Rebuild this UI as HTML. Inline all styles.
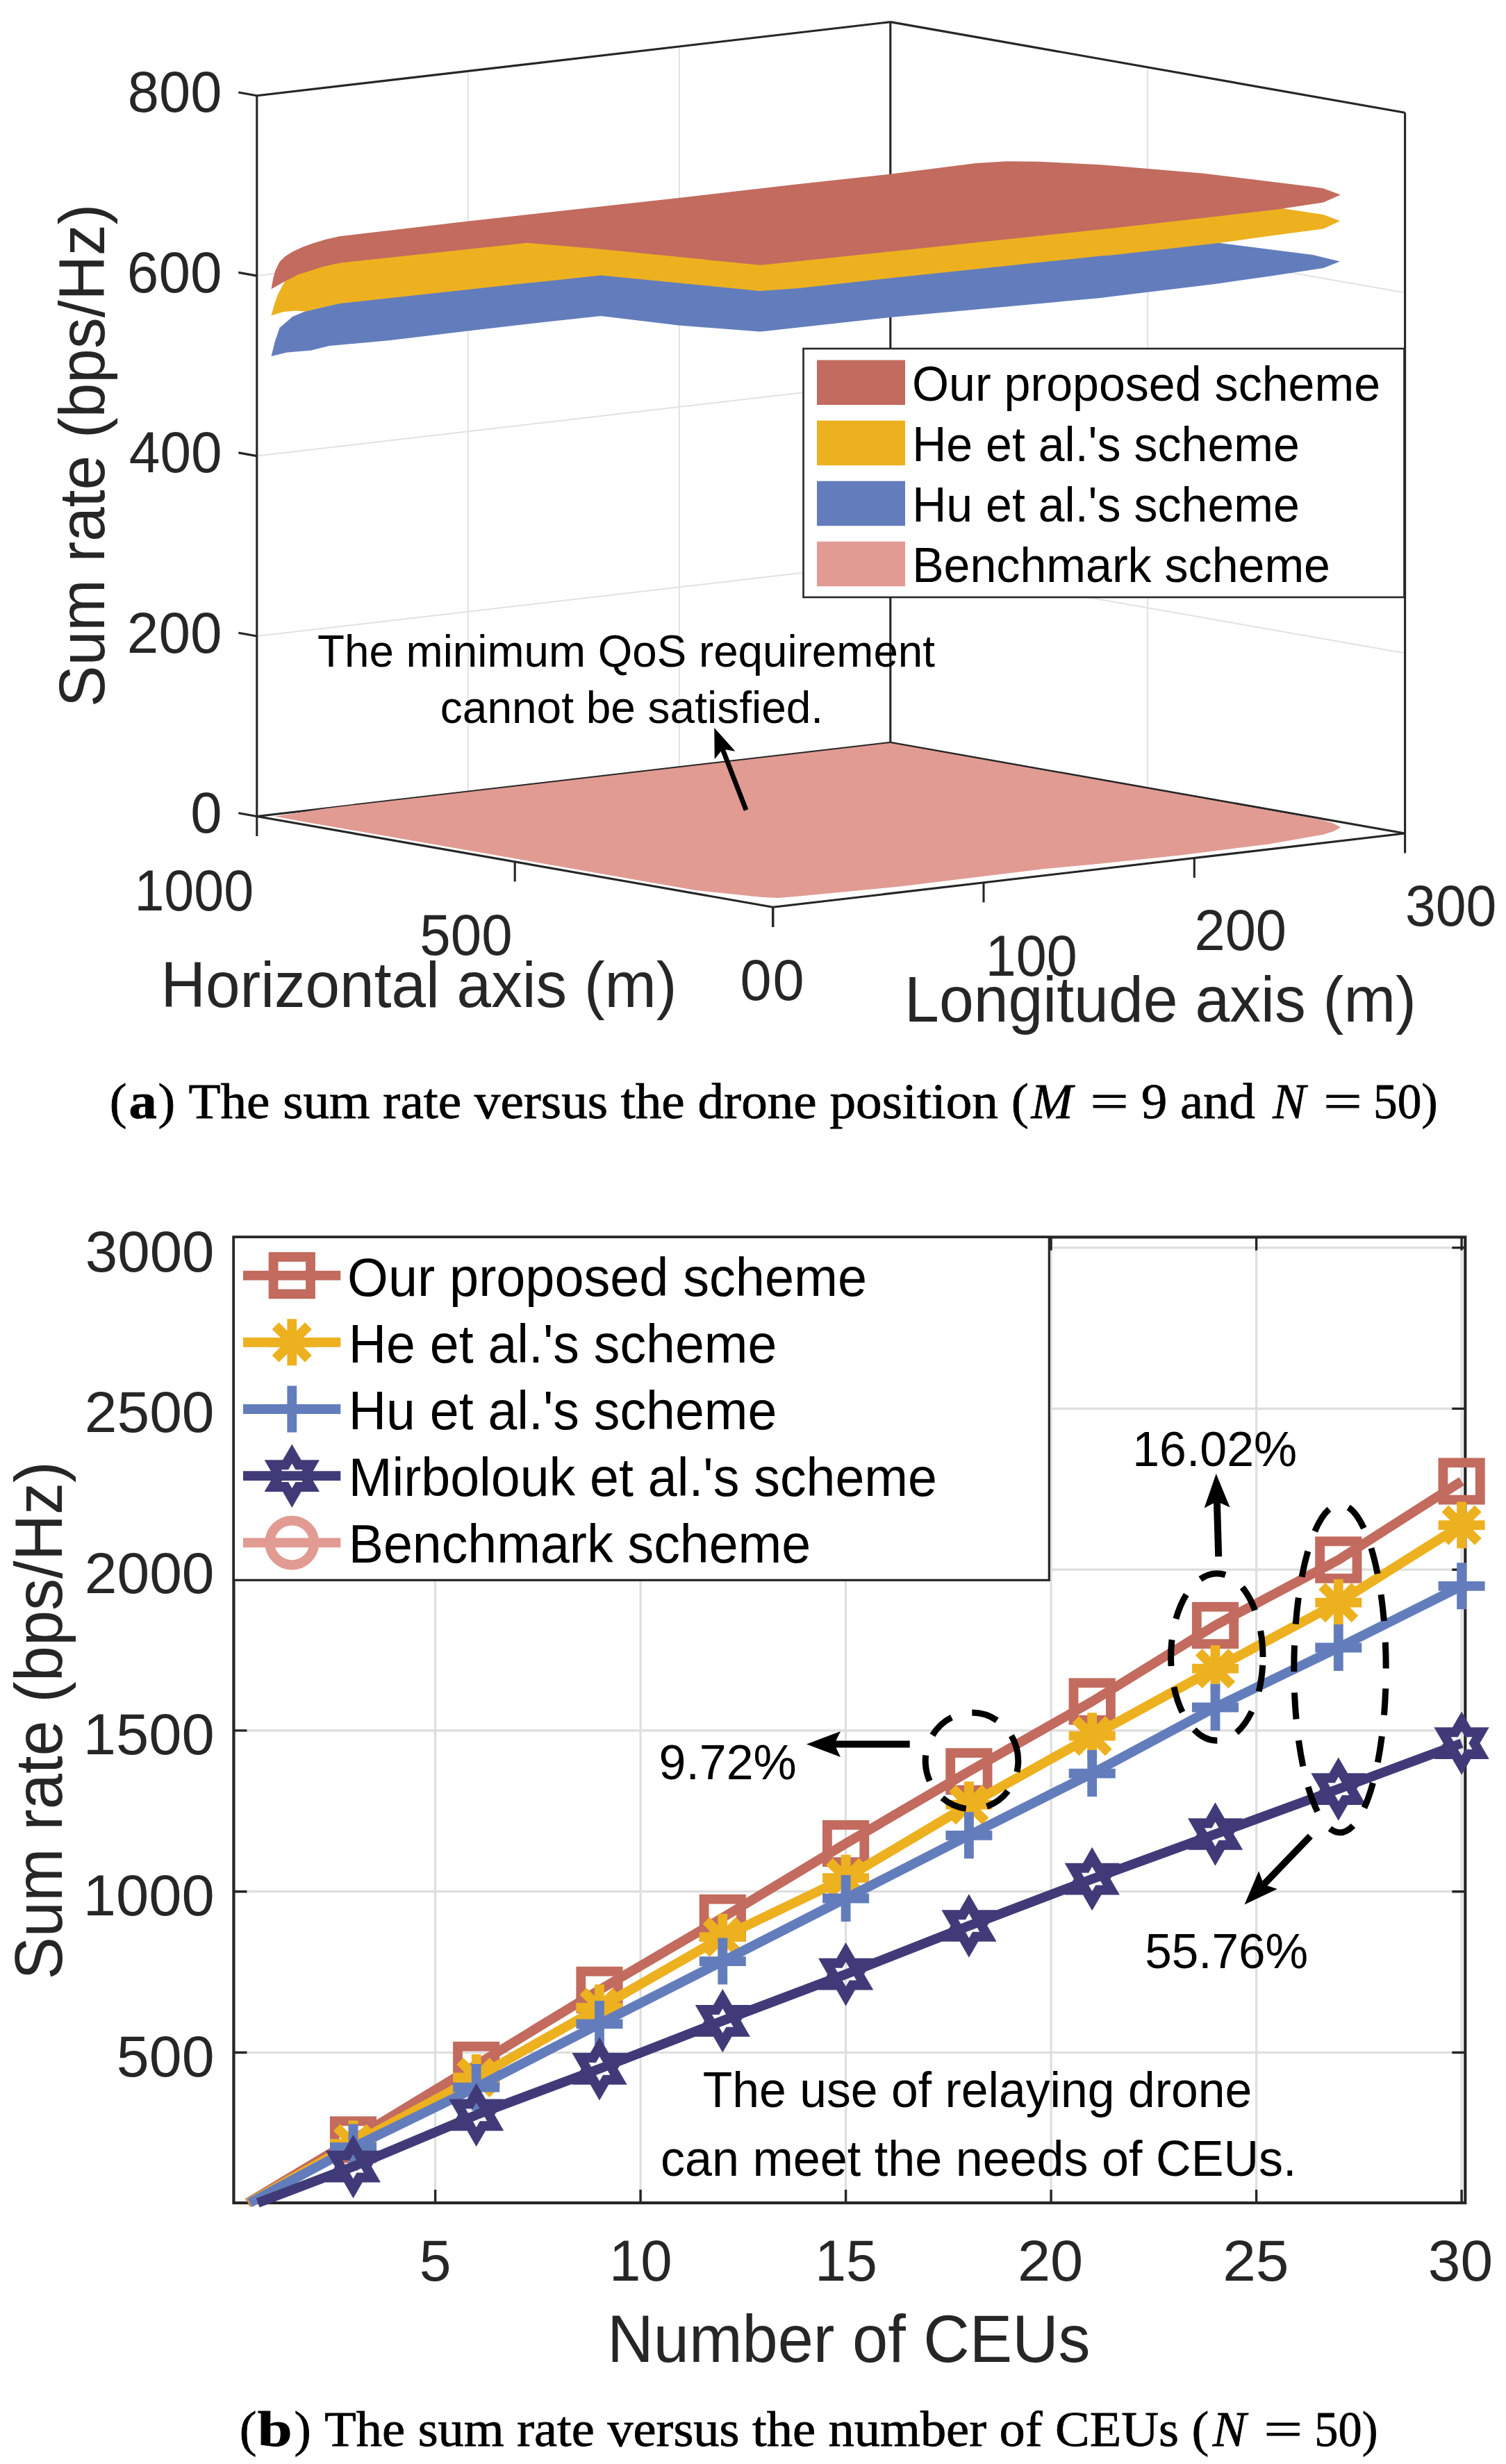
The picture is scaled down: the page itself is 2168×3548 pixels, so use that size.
<!DOCTYPE html>
<html lang="en"><head><meta charset="utf-8"><title>Sum rate figures</title>
<style>html,body{margin:0;padding:0;background:#fff}svg{display:block}</style></head>
<body><svg width="2168" height="3548" viewBox="0 0 2168 3548">
<rect width="2168" height="3548" fill="#fff"/>
<g id="chart-a">
<line x1="369.8" y1="916.0" x2="1281.8" y2="810.0" stroke="#e2e2e2" stroke-width="2" />
<line x1="1281.8" y1="810.0" x2="2022.6" y2="940.5" stroke="#e2e2e2" stroke-width="2" />
<line x1="369.8" y1="656.6" x2="1281.8" y2="550.5" stroke="#e2e2e2" stroke-width="2" />
<line x1="1281.8" y1="550.5" x2="2022.6" y2="681.1" stroke="#e2e2e2" stroke-width="2" />
<line x1="369.8" y1="397.1" x2="1281.8" y2="291.1" stroke="#e2e2e2" stroke-width="2" />
<line x1="1281.8" y1="291.1" x2="2022.6" y2="421.6" stroke="#e2e2e2" stroke-width="2" />
<line x1="673.8" y1="1140.1" x2="673.8" y2="102.3" stroke="#e2e2e2" stroke-width="2" />
<line x1="977.8" y1="1104.8" x2="977.8" y2="67.0" stroke="#e2e2e2" stroke-width="2" />
<line x1="1652.2" y1="1134.7" x2="1652.2" y2="96.9" stroke="#e2e2e2" stroke-width="2" />
<line x1="369.8" y1="1175.5" x2="1281.8" y2="1069.4" stroke="#262626" stroke-width="3.1" />
<line x1="1281.8" y1="1069.4" x2="2022.6" y2="1200.0" stroke="#262626" stroke-width="3.1" />
<line x1="1281.8" y1="1069.4" x2="1281.8" y2="31.6" stroke="#262626" stroke-width="3.1" />
<polygon fill="#E19B92" points="395,1175.5 470,1164 1281.5,1070 1898,1179.5 1918,1185 1930,1191 1920,1197 1906,1201.6 1826.7,1215.5 1699,1231.5 1580,1244 1500,1251.4 1300,1276 1150,1290.5 1120,1293 1095.6,1291.8 1000,1281.8 700,1229 450,1185.5"/>
<line x1="369.8" y1="1175.5" x2="1112.7" y2="1306.3" stroke="#262626" stroke-width="3.1" />
<line x1="1112.7" y1="1306.3" x2="2022.6" y2="1200.0" stroke="#262626" stroke-width="3.1" />
<path fill="#637DBC" d="M390.5,513 L396,491 L402.5,472 L421,456 L440,448 L466,442 L490,436 L760,405 L865,394 L1094,416 L1150,412 L1281,398 L1585,366 L1749,349 L1890,367 L1929,376.6 L1905,386 L1826,398 L1749,409 L1600,427 L1585,429 L1281,457 L1100,477 L1094,477.5 L977,468.5 L865,455 L791,463 L674,476.5 L562,490 L474,498 L448,504.5 L413,507.5 Z"/>
<path fill="#EDB120" d="M390.5,454.6 L395,438 L400,424 L410,405 L430,392 L466,380 L490,375 L760,345 L1094,378 L1600,325 L1839,299 L1905,309 L1929.3,318.2 L1905,329.5 L1826,340 L1754,350 L1600,367.5 L1585,368.5 L1281,400.5 L1150,415 L1094,419 L865,396.5 L760,407.6 L490,437 L466,442 L440,448.5 L426,447.5 L408,449 Z"/>
<path fill="#C26B5E" d="M390.5,416.3 L393,402 L396,390.3 L402.5,377 L410,369.5 L421,362.4 L435,356 L450,350.5 L468,345 L487.5,340.4 L674,318.6 L977,285 L1150,265 L1281,250.8 L1405,235 L1450,232.2 L1495,232.7 L1585,237.2 L1600,238.5 L1733,249.7 L1890,269 L1905,271.2 L1929.9,280.5 L1905,291.6 L1839,301.5 L1766,310 L1600,328.8 L1450,344.6 L1281,362.3 L1100,381.2 L1094,381.7 L860,358.3 L759,349.8 L490,378.4 L466,383.7 L429,395.6 L408,406.2 Z"/>
<line x1="369.8" y1="1175.5" x2="369.8" y2="137.7" stroke="#262626" stroke-width="3.1" />
<line x1="369.8" y1="137.7" x2="1281.8" y2="31.6" stroke="#262626" stroke-width="3.1" />
<line x1="1281.8" y1="31.6" x2="2022.6" y2="162.2" stroke="#262626" stroke-width="3.1" />
<line x1="2022.6" y1="1200.0" x2="2022.6" y2="162.2" stroke="#262626" stroke-width="3.1" />
<line x1="343.3" y1="1170.8" x2="369.8" y2="1175.5" stroke="#262626" stroke-width="3.1" />
<text transform="translate(274.15,1199.1) scale(0.9825,1)" font-size="83" fill="#262626" font-family="Liberation Sans, Arial, Helvetica, sans-serif">0</text>
<line x1="343.3" y1="911.3" x2="369.8" y2="916.0" stroke="#262626" stroke-width="3.1" />
<text transform="translate(182.85,939.6) scale(0.9869,1)" font-size="83" fill="#262626" font-family="Liberation Sans, Arial, Helvetica, sans-serif">200</text>
<line x1="343.3" y1="651.9" x2="369.8" y2="656.6" stroke="#262626" stroke-width="3.1" />
<text transform="translate(185.84,680.2) scale(0.9649,1)" font-size="83" fill="#262626" font-family="Liberation Sans, Arial, Helvetica, sans-serif">400</text>
<line x1="343.3" y1="392.4" x2="369.8" y2="397.1" stroke="#262626" stroke-width="3.1" />
<text transform="translate(182.85,420.8) scale(0.9869,1)" font-size="83" fill="#262626" font-family="Liberation Sans, Arial, Helvetica, sans-serif">600</text>
<line x1="343.3" y1="133.0" x2="369.8" y2="137.7" stroke="#262626" stroke-width="3.1" />
<text transform="translate(183.86,161.3) scale(0.9794,1)" font-size="83" fill="#262626" font-family="Liberation Sans, Arial, Helvetica, sans-serif">800</text>
<line x1="369.8" y1="1175.5" x2="369.8" y2="1204.0" stroke="#262626" stroke-width="3.1" />
<text transform="translate(193.42,1310.5) scale(0.9300,1)" font-size="83" fill="#262626" font-family="Liberation Sans, Arial, Helvetica, sans-serif">1000</text>
<line x1="741.2" y1="1240.9" x2="741.2" y2="1269.4" stroke="#262626" stroke-width="3.1" />
<text transform="translate(604.31,1374.9) scale(0.9621,1)" font-size="83" fill="#262626" font-family="Liberation Sans, Arial, Helvetica, sans-serif">500</text>
<line x1="1112.7" y1="1306.3" x2="1112.7" y2="1334.8" stroke="#262626" stroke-width="3.1" />
<text transform="translate(1065.57,1440.3) scale(0.9775,1)" font-size="83" fill="#262626" font-family="Liberation Sans, Arial, Helvetica, sans-serif">0</text>
<line x1="1112.7" y1="1306.3" x2="1112.7" y2="1334.8" stroke="#262626" stroke-width="3.1" />
<text transform="translate(1112.57,1440.3) scale(0.9775,1)" font-size="83" fill="#262626" font-family="Liberation Sans, Arial, Helvetica, sans-serif">0</text>
<line x1="1416.0" y1="1270.9" x2="1416.0" y2="1299.4" stroke="#262626" stroke-width="3.1" />
<text transform="translate(1418.78,1404.5) scale(0.9527,1)" font-size="83" fill="#262626" font-family="Liberation Sans, Arial, Helvetica, sans-serif">100</text>
<line x1="1719.3" y1="1235.4" x2="1719.3" y2="1263.9" stroke="#262626" stroke-width="3.1" />
<text transform="translate(1719.57,1368.4) scale(0.9564,1)" font-size="83" fill="#262626" font-family="Liberation Sans, Arial, Helvetica, sans-serif">200</text>
<line x1="2022.6" y1="1200.0" x2="2022.6" y2="1228.5" stroke="#262626" stroke-width="3.1" />
<text transform="translate(2022.95,1332.5) scale(0.9484,1)" font-size="83" fill="#262626" font-family="Liberation Sans, Arial, Helvetica, sans-serif">300</text>
<text transform="translate(231.52,1450.3) scale(0.9691,1)" font-size="92" fill="#262626" font-family="Liberation Sans, Arial, Helvetica, sans-serif">Horizontal axis (m)</text>
<text transform="translate(1302.08,1471) scale(0.9737,1)" font-size="92" fill="#262626" font-family="Liberation Sans, Arial, Helvetica, sans-serif">Longitude axis (m)</text>
<text transform="translate(149.7,1017.88) rotate(-90) scale(0.9703,1)" font-size="92" fill="#262626" font-family="Liberation Sans, Arial, Helvetica, sans-serif">Sum rate (bps/Hz)</text>
<rect x="1156.5" y="502" width="865" height="358" fill="#fff" stroke="#262626" stroke-width="2.6"/>
<rect x="1176" y="518.5" width="127" height="64.5" fill="#C26B5E"/>
<text transform="translate(1313.06,576.5) scale(0.9804,1)" font-size="69.5" fill="#000" font-family="Liberation Sans, Arial, Helvetica, sans-serif">Our proposed scheme</text>
<rect x="1176" y="605.6" width="127" height="64.5" fill="#EDB120"/>
<text transform="translate(1313.20,664) scale(0.9794,1)" font-size="69.5" fill="#000" font-family="Liberation Sans, Arial, Helvetica, sans-serif">He et al.'s scheme</text>
<rect x="1176" y="692.7" width="127" height="64.5" fill="#637DBC"/>
<text transform="translate(1313.20,750.5) scale(0.9794,1)" font-size="69.5" fill="#000" font-family="Liberation Sans, Arial, Helvetica, sans-serif">Hu et al.'s scheme</text>
<rect x="1176" y="779.8" width="127" height="64.5" fill="#E19B92"/>
<text transform="translate(1313.20,837.5) scale(0.9800,1)" font-size="69.5" fill="#000" font-family="Liberation Sans, Arial, Helvetica, sans-serif">Benchmark scheme</text>
<text transform="translate(457.02,959.5) scale(0.9807,1)" font-size="65" fill="#000" font-family="Liberation Sans, Arial, Helvetica, sans-serif">The minimum QoS requirement</text>
<text transform="translate(633.83,1040.7) scale(0.9844,1)" font-size="65" fill="#000" font-family="Liberation Sans, Arial, Helvetica, sans-serif">cannot be satisfied.</text>
<line x1="1074.1" y1="1166.4" x2="1040.2" y2="1078.7" stroke="#000" stroke-width="7"/>
<polygon fill="#000" points="1028.3,1047.9 1058.5,1081.8 1040.2,1078.7 1028.7,1093.3"/>
</g>
<text transform="translate(157.86,1609.7) scale(1.0474,1)" font-size="71" fill="#000" font-family="Liberation Serif, Times New Roman, serif" stroke="#000" stroke-width="0.8">(</text>
<text transform="translate(185.53,1609.7) scale(1.1364,1)" font-size="71" fill="#000" font-family="Liberation Serif, Times New Roman, serif" font-weight="bold" stroke="#000" stroke-width="0.8">a</text>
<text transform="translate(227.61,1609.7) scale(1.0474,1)" font-size="71" fill="#000" font-family="Liberation Serif, Times New Roman, serif" stroke="#000" stroke-width="0.8">)</text>
<text transform="translate(271.44,1609.7) scale(1.0595,1)" font-size="71" fill="#000" font-family="Liberation Serif, Times New Roman, serif" stroke="#000" stroke-width="0.8">The sum rate versus the drone position (</text>
<text transform="translate(1484.61,1609.7) scale(1.0125,1)" font-size="71" fill="#000" font-family="Liberation Serif, Times New Roman, serif" font-style="italic" stroke="#000" stroke-width="0.8">M</text>
<text transform="translate(1569.24,1609.7) scale(1.3882,1)" font-size="71" fill="#000" font-family="Liberation Serif, Times New Roman, serif" stroke="#000" stroke-width="0.8">=</text>
<text transform="translate(1642.90,1609.7) scale(1.0524,1)" font-size="71" fill="#000" font-family="Liberation Serif, Times New Roman, serif" stroke="#000" stroke-width="0.8">9 and</text>
<text transform="translate(1832.20,1609.7) scale(1.0000,1)" font-size="71" fill="#000" font-family="Liberation Serif, Times New Roman, serif" font-style="italic" stroke="#000" stroke-width="0.8">N</text>
<text transform="translate(1905.02,1609.7) scale(1.3941,1)" font-size="71" fill="#000" font-family="Liberation Serif, Times New Roman, serif" stroke="#000" stroke-width="0.8">=</text>
<text transform="translate(1977.09,1609.7) scale(0.9773,1)" font-size="71" fill="#000" font-family="Liberation Serif, Times New Roman, serif" stroke="#000" stroke-width="0.8">50)</text>
<g id="chart-b">
<line x1="626.6" y1="1781.4" x2="626.6" y2="3172" stroke="#dedede" stroke-width="3.2"/>
<line x1="922.1" y1="1781.4" x2="922.1" y2="3172" stroke="#dedede" stroke-width="3.2"/>
<line x1="1217.6" y1="1781.4" x2="1217.6" y2="3172" stroke="#dedede" stroke-width="3.2"/>
<line x1="1513.1" y1="1781.4" x2="1513.1" y2="3172" stroke="#dedede" stroke-width="3.2"/>
<line x1="1808.6" y1="1781.4" x2="1808.6" y2="3172" stroke="#dedede" stroke-width="3.2"/>
<line x1="2104.1" y1="1781.4" x2="2104.1" y2="3172" stroke="#dedede" stroke-width="3.2"/>
<line x1="336.45" y1="2955.5" x2="2109.3" y2="2955.5" stroke="#dedede" stroke-width="3.2"/>
<line x1="336.45" y1="2723.7" x2="2109.3" y2="2723.7" stroke="#dedede" stroke-width="3.2"/>
<line x1="336.45" y1="2491.9" x2="2109.3" y2="2491.9" stroke="#dedede" stroke-width="3.2"/>
<line x1="336.45" y1="2260.2" x2="2109.3" y2="2260.2" stroke="#dedede" stroke-width="3.2"/>
<line x1="336.45" y1="2028.4" x2="2109.3" y2="2028.4" stroke="#dedede" stroke-width="3.2"/>
<line x1="336.45" y1="1796.6" x2="2109.3" y2="1796.6" stroke="#dedede" stroke-width="3.2"/>
<rect x="336.45" y="1781.4" width="1772.8500000000001" height="1390.6" fill="none" stroke="#262626" stroke-width="4.2"/>
<path d="M626.6,3172v-19M626.6,1781.4v19" stroke="#262626" stroke-width="3.4"/>
<text transform="translate(603.83,3283.9) scale(0.9900,1)" font-size="83" fill="#262626" font-family="Liberation Sans, Arial, Helvetica, sans-serif">5</text>
<path d="M922.1,3172v-19M922.1,1781.4v19" stroke="#262626" stroke-width="3.4"/>
<text transform="translate(876.90,3283.9) scale(0.9836,1)" font-size="83" fill="#262626" font-family="Liberation Sans, Arial, Helvetica, sans-serif">10</text>
<path d="M1217.6,3172v-19M1217.6,1781.4v19" stroke="#262626" stroke-width="3.4"/>
<text transform="translate(1173.18,3283.9) scale(0.9704,1)" font-size="83" fill="#262626" font-family="Liberation Sans, Arial, Helvetica, sans-serif">15</text>
<path d="M1513.1,3172v-19M1513.1,1781.4v19" stroke="#262626" stroke-width="3.4"/>
<text transform="translate(1464.91,3283.9) scale(1.0216,1)" font-size="83" fill="#262626" font-family="Liberation Sans, Arial, Helvetica, sans-serif">20</text>
<path d="M1808.6,3172v-19M1808.6,1781.4v19" stroke="#262626" stroke-width="3.4"/>
<text transform="translate(1760.17,3283.9) scale(1.0333,1)" font-size="83" fill="#262626" font-family="Liberation Sans, Arial, Helvetica, sans-serif">25</text>
<path d="M2104.1,3172v-19M2104.1,1781.4v19" stroke="#262626" stroke-width="3.4"/>
<text transform="translate(2055.87,3283.9) scale(1.0097,1)" font-size="83" fill="#262626" font-family="Liberation Sans, Arial, Helvetica, sans-serif">30</text>
<path d="M336.45,2955.5h19M2109.3,2955.5h-19" stroke="#262626" stroke-width="3.4"/>
<text transform="translate(167.85,2989.5) scale(1.0165,1)" font-size="83" fill="#262626" font-family="Liberation Sans, Arial, Helvetica, sans-serif">500</text>
<path d="M336.45,2723.7h19M2109.3,2723.7h-19" stroke="#262626" stroke-width="3.4"/>
<text transform="translate(119.66,2757.7) scale(1.0235,1)" font-size="83" fill="#262626" font-family="Liberation Sans, Arial, Helvetica, sans-serif">1000</text>
<path d="M336.45,2491.9h19M2109.3,2491.9h-19" stroke="#262626" stroke-width="3.4"/>
<text transform="translate(119.66,2525.9) scale(1.0235,1)" font-size="83" fill="#262626" font-family="Liberation Sans, Arial, Helvetica, sans-serif">1500</text>
<path d="M336.45,2260.2h19M2109.3,2260.2h-19" stroke="#262626" stroke-width="3.4"/>
<text transform="translate(121.75,2294.2) scale(1.0119,1)" font-size="83" fill="#262626" font-family="Liberation Sans, Arial, Helvetica, sans-serif">2000</text>
<path d="M336.45,2028.4h19M2109.3,2028.4h-19" stroke="#262626" stroke-width="3.4"/>
<text transform="translate(121.75,2062.4) scale(1.0119,1)" font-size="83" fill="#262626" font-family="Liberation Sans, Arial, Helvetica, sans-serif">2500</text>
<path d="M336.45,1796.6h19M2109.3,1796.6h-19" stroke="#262626" stroke-width="3.4"/>
<text transform="translate(122.78,1830.6) scale(1.0063,1)" font-size="83" fill="#262626" font-family="Liberation Sans, Arial, Helvetica, sans-serif">3000</text>
<polyline fill="none" stroke="#C26B5E" stroke-width="13.8" stroke-linejoin="round" points="356.6,3172.0 508.5,3081.0 685.7,2973.4 863.0,2865.4 1040.3,2761.4 1217.6,2654.5 1394.9,2550.8 1572.2,2450.0 1749.5,2340.4 1926.8,2246.1 2104.1,2132.9"/>
<rect x="481.8" y="3054.3" width="53.4" height="53.4" fill="none" stroke="#C26B5E" stroke-width="13.8"/>
<rect x="659.0" y="2946.7" width="53.4" height="53.4" fill="none" stroke="#C26B5E" stroke-width="13.8"/>
<rect x="836.3" y="2838.7" width="53.4" height="53.4" fill="none" stroke="#C26B5E" stroke-width="13.8"/>
<rect x="1013.6" y="2734.7" width="53.4" height="53.4" fill="none" stroke="#C26B5E" stroke-width="13.8"/>
<rect x="1190.9" y="2627.8" width="53.4" height="53.4" fill="none" stroke="#C26B5E" stroke-width="13.8"/>
<rect x="1368.2" y="2524.1" width="53.4" height="53.4" fill="none" stroke="#C26B5E" stroke-width="13.8"/>
<rect x="1545.5" y="2423.3" width="53.4" height="53.4" fill="none" stroke="#C26B5E" stroke-width="13.8"/>
<rect x="1722.8" y="2313.7" width="53.4" height="53.4" fill="none" stroke="#C26B5E" stroke-width="13.8"/>
<rect x="1900.1" y="2219.4" width="53.4" height="53.4" fill="none" stroke="#C26B5E" stroke-width="13.8"/>
<rect x="2077.4" y="2106.2" width="53.4" height="53.4" fill="none" stroke="#C26B5E" stroke-width="13.8"/>
<polyline fill="none" stroke="#EDB120" stroke-width="13.8" stroke-linejoin="round" points="358.2,3172.0 508.5,3087.0 685.7,2991.5 863.0,2891.0 1040.3,2789.2 1217.6,2704.2 1394.9,2598.7 1572.2,2499.7 1749.5,2402.6 1926.8,2307.6 2104.1,2196.1"/>
<path d="M475.0,3087.0h67.0M508.5,3053.5v67.0M484.8,3063.3l47.4,47.4M484.8,3110.7l47.4,-47.4" stroke="#EDB120" stroke-width="13.8" fill="none"/>
<path d="M652.2,2991.5h67.0M685.7,2958.0v67.0M662.1,2967.8l47.4,47.4M662.1,3015.2l47.4,-47.4" stroke="#EDB120" stroke-width="13.8" fill="none"/>
<path d="M829.5,2891.0h67.0M863.0,2857.5v67.0M839.4,2867.3l47.4,47.4M839.4,2914.7l47.4,-47.4" stroke="#EDB120" stroke-width="13.8" fill="none"/>
<path d="M1006.8,2789.2h67.0M1040.3,2755.7v67.0M1016.6,2765.5l47.4,47.4M1016.6,2812.9l47.4,-47.4" stroke="#EDB120" stroke-width="13.8" fill="none"/>
<path d="M1184.1,2704.2h67.0M1217.6,2670.7v67.0M1193.9,2680.5l47.4,47.4M1193.9,2727.9l47.4,-47.4" stroke="#EDB120" stroke-width="13.8" fill="none"/>
<path d="M1361.4,2598.7h67.0M1394.9,2565.2v67.0M1371.2,2575.0l47.4,47.4M1371.2,2622.4l47.4,-47.4" stroke="#EDB120" stroke-width="13.8" fill="none"/>
<path d="M1538.7,2499.7h67.0M1572.2,2466.2v67.0M1548.5,2476.0l47.4,47.4M1548.5,2523.4l47.4,-47.4" stroke="#EDB120" stroke-width="13.8" fill="none"/>
<path d="M1716.0,2402.6h67.0M1749.5,2369.1v67.0M1725.8,2378.9l47.4,47.4M1725.8,2426.3l47.4,-47.4" stroke="#EDB120" stroke-width="13.8" fill="none"/>
<path d="M1893.3,2307.6h67.0M1926.8,2274.1v67.0M1903.1,2283.9l47.4,47.4M1903.1,2331.3l47.4,-47.4" stroke="#EDB120" stroke-width="13.8" fill="none"/>
<path d="M2070.6,2196.1h67.0M2104.1,2162.6v67.0M2080.4,2172.4l47.4,47.4M2080.4,2219.8l47.4,-47.4" stroke="#EDB120" stroke-width="13.8" fill="none"/>
<polyline fill="none" stroke="#637DBC" stroke-width="13.8" stroke-linejoin="round" points="359.6,3172.0 508.5,3092.0 685.7,3005.6 863.0,2914.4 1040.3,2824.1 1217.6,2733.5 1394.9,2642.8 1572.2,2553.6 1749.5,2458.5 1926.8,2372.5 2104.1,2283.8"/>
<path d="M475.0,3092.0h67.0M508.5,3058.5v67.0" stroke="#637DBC" stroke-width="13.8" fill="none"/>
<path d="M652.2,3005.6h67.0M685.7,2972.1v67.0" stroke="#637DBC" stroke-width="13.8" fill="none"/>
<path d="M829.5,2914.4h67.0M863.0,2880.9v67.0" stroke="#637DBC" stroke-width="13.8" fill="none"/>
<path d="M1006.8,2824.1h67.0M1040.3,2790.6v67.0" stroke="#637DBC" stroke-width="13.8" fill="none"/>
<path d="M1184.1,2733.5h67.0M1217.6,2700.0v67.0" stroke="#637DBC" stroke-width="13.8" fill="none"/>
<path d="M1361.4,2642.8h67.0M1394.9,2609.3v67.0" stroke="#637DBC" stroke-width="13.8" fill="none"/>
<path d="M1538.7,2553.6h67.0M1572.2,2520.1v67.0" stroke="#637DBC" stroke-width="13.8" fill="none"/>
<path d="M1716.0,2458.5h67.0M1749.5,2425.0v67.0" stroke="#637DBC" stroke-width="13.8" fill="none"/>
<path d="M1893.3,2372.5h67.0M1926.8,2339.0v67.0" stroke="#637DBC" stroke-width="13.8" fill="none"/>
<path d="M2070.6,2283.8h67.0M2104.1,2250.3v67.0" stroke="#637DBC" stroke-width="13.8" fill="none"/>
<polyline fill="none" stroke="#403B78" stroke-width="13.8" stroke-linejoin="round" points="371.2,3172.0 508.5,3119.7 685.7,3045.3 863.0,2978.9 1040.3,2909.8 1217.6,2842.7 1394.9,2773.0 1572.2,2705.6 1749.5,2641.0 1926.8,2576.1 2104.1,2510.1"/>
<polygon points="508.5,3088.0 517.6,3103.8 535.9,3103.8 526.8,3119.7 535.9,3135.5 517.6,3135.5 508.5,3151.4 499.3,3135.5 481.0,3135.5 490.2,3119.7 481.0,3103.8 499.3,3103.8" fill="none" stroke="#403B78" stroke-width="14"/>
<polygon points="685.7,3013.6 694.9,3029.5 713.2,3029.5 704.1,3045.3 713.2,3061.2 694.9,3061.2 685.7,3077.0 676.6,3061.2 658.3,3061.2 667.4,3045.3 658.3,3029.5 676.6,3029.5" fill="none" stroke="#403B78" stroke-width="14"/>
<polygon points="863.0,2947.2 872.2,2963.1 890.5,2963.1 881.3,2978.9 890.5,2994.8 872.2,2994.8 863.0,3010.6 853.9,2994.8 835.6,2994.8 844.7,2978.9 835.6,2963.1 853.9,2963.1" fill="none" stroke="#403B78" stroke-width="14"/>
<polygon points="1040.3,2878.1 1049.5,2894.0 1067.8,2894.0 1058.6,2909.8 1067.8,2925.7 1049.5,2925.7 1040.3,2941.5 1031.2,2925.7 1012.9,2925.7 1022.0,2909.8 1012.9,2894.0 1031.2,2894.0" fill="none" stroke="#403B78" stroke-width="14"/>
<polygon points="1217.6,2811.0 1226.8,2826.8 1245.1,2826.8 1235.9,2842.7 1245.1,2858.5 1226.8,2858.5 1217.6,2874.4 1208.5,2858.5 1190.2,2858.5 1199.3,2842.7 1190.2,2826.8 1208.5,2826.8" fill="none" stroke="#403B78" stroke-width="14"/>
<polygon points="1394.9,2741.3 1404.1,2757.2 1422.4,2757.2 1413.2,2773.0 1422.4,2788.8 1404.1,2788.8 1394.9,2804.7 1385.8,2788.8 1367.5,2788.8 1376.6,2773.0 1367.5,2757.2 1385.8,2757.2" fill="none" stroke="#403B78" stroke-width="14"/>
<polygon points="1572.2,2673.9 1581.4,2689.8 1599.7,2689.8 1590.5,2705.6 1599.7,2721.4 1581.4,2721.4 1572.2,2737.3 1563.1,2721.4 1544.8,2721.4 1553.9,2705.6 1544.8,2689.8 1563.1,2689.8" fill="none" stroke="#403B78" stroke-width="14"/>
<polygon points="1749.5,2609.3 1758.7,2625.2 1777.0,2625.2 1767.8,2641.0 1777.0,2656.8 1758.7,2656.8 1749.5,2672.7 1740.4,2656.8 1722.1,2656.8 1731.2,2641.0 1722.1,2625.2 1740.4,2625.2" fill="none" stroke="#403B78" stroke-width="14"/>
<polygon points="1926.8,2544.4 1936.0,2560.2 1954.3,2560.2 1945.1,2576.1 1954.3,2591.9 1936.0,2591.9 1926.8,2607.8 1917.7,2591.9 1899.4,2591.9 1908.5,2576.1 1899.4,2560.2 1917.7,2560.2" fill="none" stroke="#403B78" stroke-width="14"/>
<polygon points="2104.1,2478.4 2113.3,2494.2 2131.6,2494.2 2122.4,2510.1 2131.6,2525.9 2113.3,2525.9 2104.1,2541.8 2094.9,2525.9 2076.6,2525.9 2085.8,2510.1 2076.6,2494.2 2094.9,2494.2" fill="none" stroke="#403B78" stroke-width="14"/>
<text transform="translate(874.29,3400.5) scale(0.9584,1)" font-size="96" fill="#262626" font-family="Liberation Sans, Arial, Helvetica, sans-serif">Number of CEUs</text>
<text transform="translate(88.5,2850.53) rotate(-90) scale(0.9582,1)" font-size="96" fill="#262626" font-family="Liberation Sans, Arial, Helvetica, sans-serif">Sum rate (bps/Hz)</text>
<rect x="336.45" y="1781.4" width="1173.85" height="493.9" fill="#fff" stroke="#262626" stroke-width="3.2"/>
<line x1="350" y1="1836.6" x2="490.3" y2="1836.6" stroke="#C26B5E" stroke-width="13.8"/>
<rect x="393.6" y="1809.9" width="53.4" height="53.4" fill="none" stroke="#C26B5E" stroke-width="13.8"/>
<text transform="translate(500.11,1866.0) scale(0.9630,1)" font-size="78.5" fill="#000" font-family="Liberation Sans, Arial, Helvetica, sans-serif">Our proposed scheme</text>
<line x1="350" y1="1932.8" x2="490.3" y2="1932.8" stroke="#EDB120" stroke-width="13.8"/>
<path d="M386.8,1932.8h67.0M420.3,1899.3v67.0M396.6,1909.1l47.4,47.4M396.6,1956.5l47.4,-47.4" stroke="#EDB120" stroke-width="13.8" fill="none"/>
<text transform="translate(501.75,1962.1) scale(0.9587,1)" font-size="78.5" fill="#000" font-family="Liberation Sans, Arial, Helvetica, sans-serif">He et al.'s scheme</text>
<line x1="350" y1="2029.0" x2="490.3" y2="2029.0" stroke="#637DBC" stroke-width="13.8"/>
<path d="M386.8,2029.0h67.0M420.3,1995.5v67.0" stroke="#637DBC" stroke-width="13.8" fill="none"/>
<text transform="translate(501.75,2058.2) scale(0.9587,1)" font-size="78.5" fill="#000" font-family="Liberation Sans, Arial, Helvetica, sans-serif">Hu et al.'s scheme</text>
<line x1="350" y1="2125.2" x2="490.3" y2="2125.2" stroke="#403B78" stroke-width="13.8"/>
<polygon points="420.3,2093.5 429.5,2109.3 447.8,2109.3 438.6,2125.2 447.8,2141.0 429.5,2141.0 420.3,2156.9 411.1,2141.0 392.8,2141.0 402.0,2125.2 392.8,2109.3 411.1,2109.3" fill="none" stroke="#403B78" stroke-width="14"/>
<text transform="translate(501.74,2154.3) scale(0.9595,1)" font-size="78.5" fill="#000" font-family="Liberation Sans, Arial, Helvetica, sans-serif">Mirbolouk et al.'s scheme</text>
<line x1="350" y1="2221.4" x2="490.3" y2="2221.4" stroke="#E19B92" stroke-width="13.8"/>
<circle cx="420.3" cy="2221.4" r="32" fill="none" stroke="#E19B92" stroke-width="14"/>
<text transform="translate(501.74,2250.4) scale(0.9594,1)" font-size="78.5" fill="#000" font-family="Liberation Sans, Arial, Helvetica, sans-serif">Benchmark scheme</text>
<path d="M1465.8,2535.5A66.8,69.4 0 1 0 1332.2,2535.5A66.8,69.4 0 1 0 1465.8,2535.5" fill="none" stroke="#000" stroke-width="9" stroke-dasharray="38 30.5"/>
<path d="M1818.0,2386A66.2,120.3 0 1 0 1685.6,2386A66.2,120.3 0 1 0 1818.0,2386" fill="none" stroke="#000" stroke-width="9" stroke-dasharray="38 30.5"/>
<path d="M1995.2,2402.6A66.2,235.8 0 1 0 1862.8,2402.6A66.2,235.8 0 1 0 1995.2,2402.6" fill="none" stroke="#000" stroke-width="9" stroke-dasharray="38 30.5"/>
<line x1="1754.2" y1="2241.4" x2="1751.9" y2="2162.0" stroke="#000" stroke-width="10"/>
<polygon fill="#000" points="1750.7,2122.0 1770.6,2170.4 1751.9,2162.0 1733.6,2171.5"/>
<line x1="1309.7" y1="2511.4" x2="1201.0" y2="2511.4" stroke="#000" stroke-width="10"/>
<polygon fill="#000" points="1161.0,2511.4 1210.0,2492.9 1201.0,2511.4 1210.0,2529.9"/>
<line x1="1886.3" y1="2643.9" x2="1819.2" y2="2713.6" stroke="#000" stroke-width="10"/>
<polygon fill="#000" points="1791.5,2742.4 1812.1,2694.3 1819.2,2713.6 1838.8,2719.9"/>
<text transform="translate(1630.27,2110.5) scale(1.0052,1)" font-size="69.5" fill="#000" font-family="Liberation Sans, Arial, Helvetica, sans-serif">16.02%</text>
<text transform="translate(948.58,2561.5) scale(1.0059,1)" font-size="69.5" fill="#000" font-family="Liberation Sans, Arial, Helvetica, sans-serif">9.72%</text>
<text transform="translate(1648.21,2833.8) scale(0.9973,1)" font-size="69.5" fill="#000" font-family="Liberation Sans, Arial, Helvetica, sans-serif">55.76%</text>
<text transform="translate(1011.73,3034.3) scale(0.9683,1)" font-size="72" fill="#000" font-family="Liberation Sans, Arial, Helvetica, sans-serif">The use of relaying drone</text>
<text transform="translate(950.98,3132.7) scale(0.9736,1)" font-size="72" fill="#000" font-family="Liberation Sans, Arial, Helvetica, sans-serif">can meet the needs of CEUs.</text>
</g>
<text transform="translate(344.76,3522) scale(1.0474,1)" font-size="71" fill="#000" font-family="Liberation Serif, Times New Roman, serif" stroke="#000" stroke-width="0.8">(</text>
<text transform="translate(370.80,3522) scale(1.2649,1)" font-size="71" fill="#000" font-family="Liberation Serif, Times New Roman, serif" font-weight="bold" stroke="#000" stroke-width="0.8">b</text>
<text transform="translate(423.55,3522) scale(1.0263,1)" font-size="71" fill="#000" font-family="Liberation Serif, Times New Roman, serif" stroke="#000" stroke-width="0.8">)</text>
<text transform="translate(467.35,3522) scale(1.0482,1)" font-size="71" fill="#000" font-family="Liberation Serif, Times New Roman, serif" stroke="#000" stroke-width="0.8">The sum rate versus the number of CEUs (</text>
<text transform="translate(1745.82,3522) scale(1.0154,1)" font-size="71" fill="#000" font-family="Liberation Serif, Times New Roman, serif" font-style="italic" stroke="#000" stroke-width="0.8">N</text>
<text transform="translate(1819.32,3522) scale(1.3941,1)" font-size="71" fill="#000" font-family="Liberation Serif, Times New Roman, serif" stroke="#000" stroke-width="0.8">=</text>
<text transform="translate(1892.35,3522) scale(0.9625,1)" font-size="71" fill="#000" font-family="Liberation Serif, Times New Roman, serif" stroke="#000" stroke-width="0.8">50)</text>
</svg></body></html>
